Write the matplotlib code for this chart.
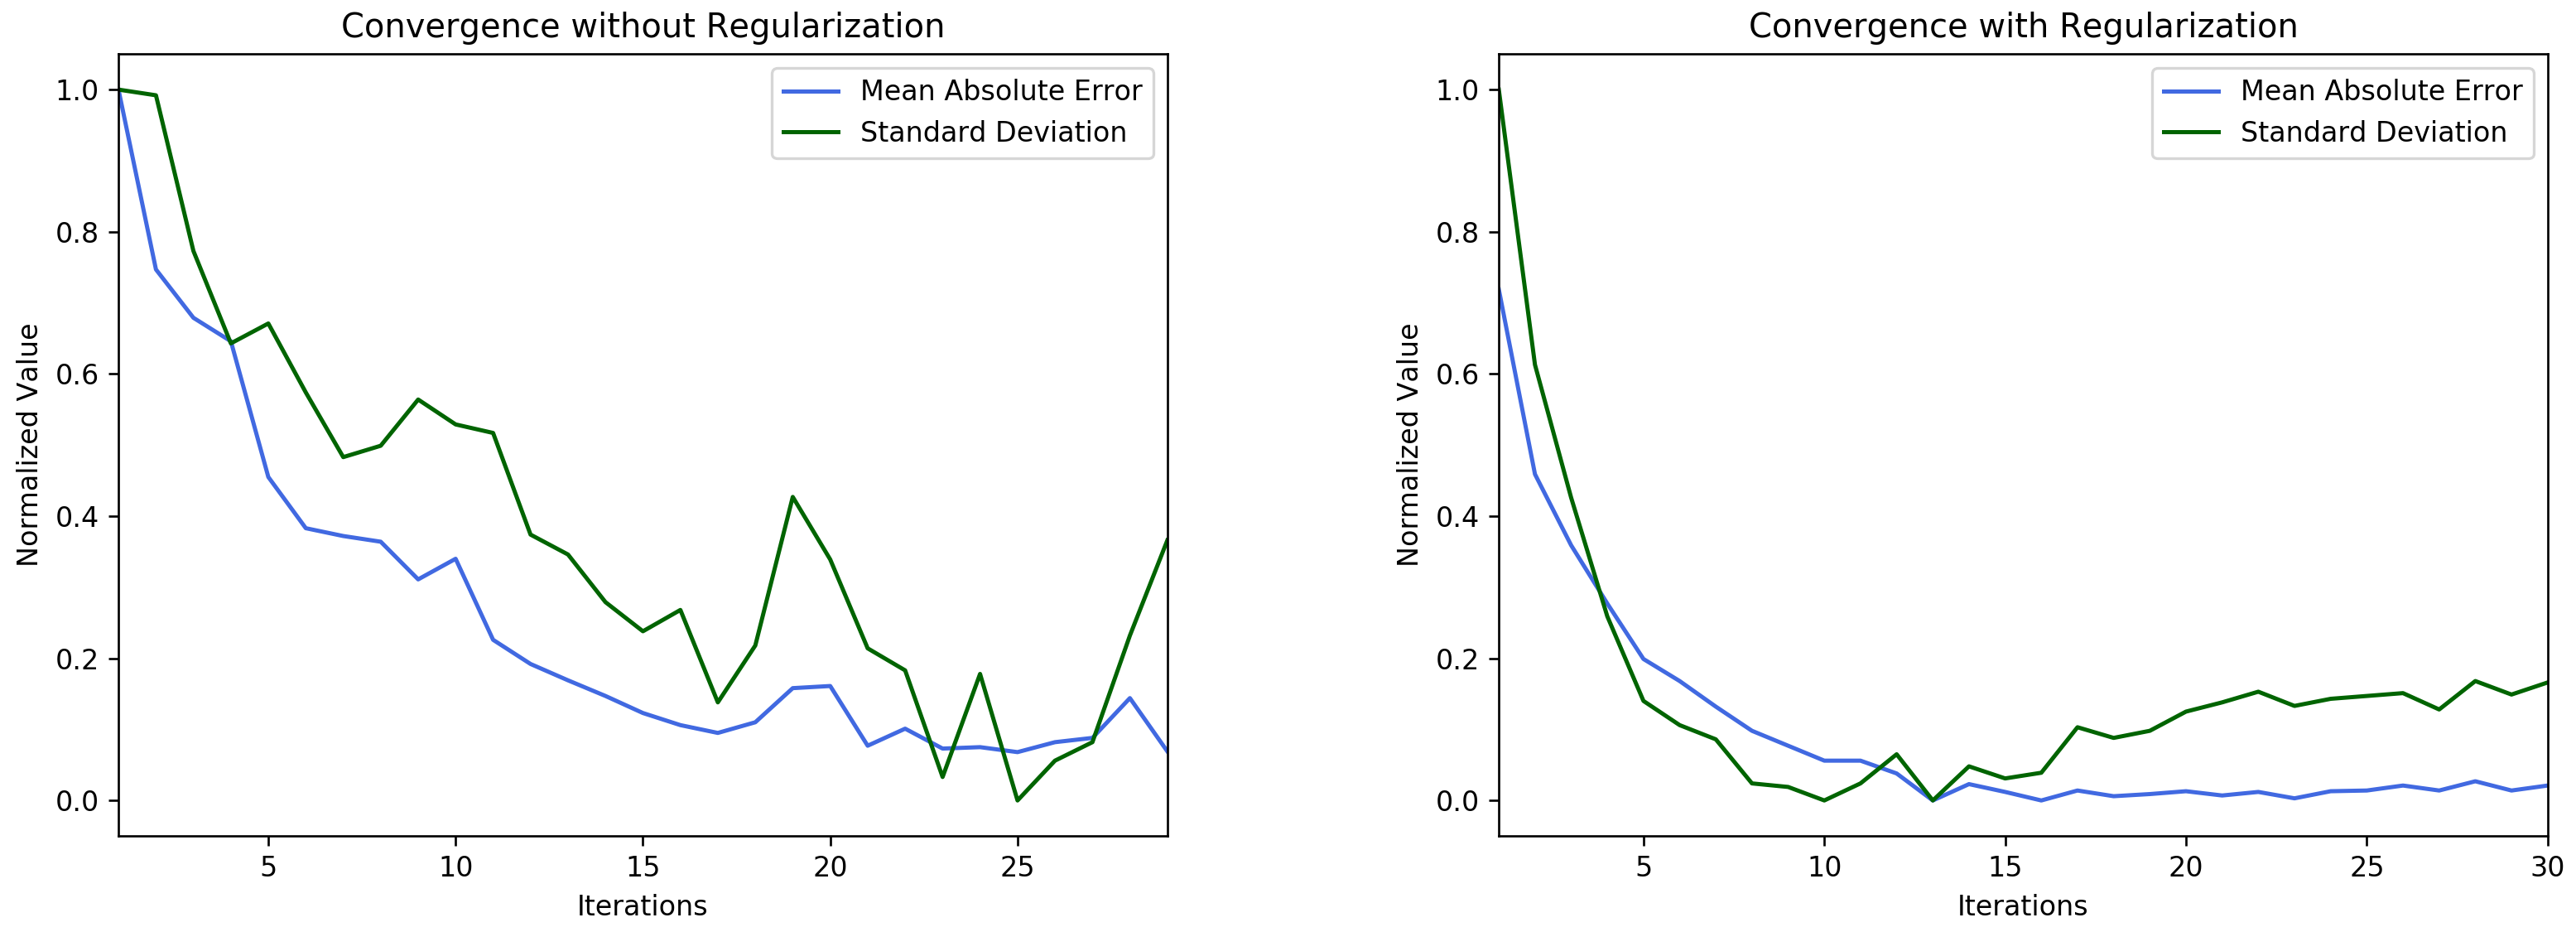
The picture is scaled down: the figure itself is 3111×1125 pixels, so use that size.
#!/usr/bin/env python3
import matplotlib
matplotlib.use('Agg')
import matplotlib.pyplot as plt

# older-looking text metrics, closer to the reference rendering
plt.rcParams['text.kerning_factor'] = 6
plt.rcParams['text.hinting'] = 'auto'

# Iterations
ITERS_NO_REG = list(range(1, 30))
ITERS_REG = list(range(1, 31))

# Convergence without regularization (normalized)
MAE_NO_REG = [1.0, 0.747, 0.679, 0.646, 0.455, 0.383, 0.372, 0.364, 0.311, 0.340,
              0.226, 0.192, 0.169, 0.147, 0.123, 0.106, 0.095, 0.110, 0.158, 0.161,
              0.077, 0.101, 0.073, 0.075, 0.068, 0.082, 0.088, 0.144, 0.069]
STD_NO_REG = [1.0, 0.992, 0.773, 0.643, 0.671, 0.574, 0.483, 0.499, 0.564, 0.529,
              0.517, 0.374, 0.346, 0.279, 0.238, 0.268, 0.138, 0.218, 0.427, 0.339,
              0.214, 0.183, 0.033, 0.178, 0.0, 0.056, 0.082, 0.232, 0.366]

# Convergence with regularization (normalized)
MAE_REG = [0.719, 0.459, 0.359, 0.277, 0.199, 0.168, 0.132, 0.098, 0.077, 0.056,
           0.056, 0.038, 0.0, 0.023, 0.012, 0.0, 0.014, 0.006, 0.009, 0.013,
           0.007, 0.012, 0.003, 0.013, 0.014, 0.021, 0.014, 0.027, 0.014, 0.021]
STD_REG = [1.0, 0.613, 0.426, 0.259, 0.140, 0.106, 0.086, 0.024, 0.019, 0.0,
           0.024, 0.065, 0.0, 0.048, 0.031, 0.039, 0.103, 0.088, 0.098, 0.125,
           0.138, 0.153, 0.133, 0.143, 0.147, 0.151, 0.128, 0.168, 0.149, 0.166]

PANELS = [
    ("Convergence without Regularization", ITERS_NO_REG, MAE_NO_REG, STD_NO_REG),
    ("Convergence with Regularization", ITERS_REG, MAE_REG, STD_REG),
]


def main():
    fig, axes = plt.subplots(1, 2, figsize=(3111 / 240, 1125 / 240), dpi=240)
    fig.subplots_adjust(left=0.046, right=0.989, bottom=0.103, top=0.942, wspace=0.316)

    for ax, (title, iters, mae, std) in zip(axes, PANELS):
        ax.plot(iters, mae, color="royalblue", label="Mean Absolute Error")
        ax.plot(iters, std, color="darkgreen", label="Standard Deviation")
        ax.set_xlim(iters[0], iters[-1])
        ax.set_title(title)
        ax.set_xlabel("Iterations")
        ax.set_ylabel("Normalized Value")
        ax.legend(loc="upper right")

    fig.savefig("out.png", dpi=240)
    plt.close(fig)


if __name__ == "__main__":
    main()
